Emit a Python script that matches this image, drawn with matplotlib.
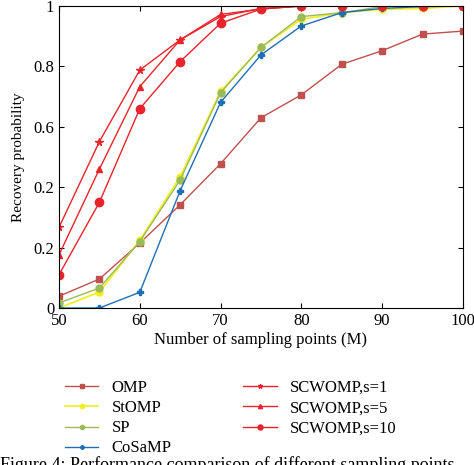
import matplotlib
matplotlib.use("Agg")
import matplotlib.pyplot as plt

plt.rcParams['font.family'] = ['Liberation Serif', 'DejaVu Serif']

M = [50, 55, 60, 65, 70, 75, 80, 85, 90, 95, 100]
omp = [0.039, 0.096, 0.215, 0.342, 0.478, 0.63, 0.706, 0.807, 0.852, 0.907, 0.917]
stomp = [0.0, 0.053, 0.224, 0.435, 0.717, 0.863, 0.956, 0.978, 0.989, 0.992, 1.0]
sp = [0.017, 0.066, 0.22, 0.424, 0.713, 0.863, 0.965, 0.978, 0.998, 0.998, 1.0]
cosamp = [0.0, 0.0, 0.052, 0.389, 0.681, 0.838, 0.934, 0.978, 0.992, 0.998, 1.0]
scw1 = [0.267, 0.551, 0.788, 0.888, 0.965, 0.992, 1.0, 1.0, 1.0, 1.0, 1.0]
scw5 = [0.176, 0.46, 0.733, 0.888, 0.972, 0.99, 1.0, 1.0, 1.0, 1.0, 1.0]
scw10 = [0.11, 0.35, 0.66, 0.816, 0.943, 0.99, 1.0, 1.0, 1.0, 1.0, 1.0]
yticks = [0, 0.2, 0.4, 0.6, 0.8, 1]
ytick_labels = ['0', '0.2', '0.2', '0.6', '0.8', '1']
xticks = [50, 60, 70, 80, 90, 100]

fig = plt.figure(figsize=(4.74, 4.65), dpi=100)
ax = fig.add_axes([59/474, 1-308/465, 404/474, 302/465])

red = '#e8232b'
ax.plot(M, omp, color='#c0504d', marker='s', ms=5, lw=1, label='OMP')
ax.plot(M, stomp, color='#f2ee1a', marker='o', ms=5, lw=1.2, label='StOMP')
ax.plot(M, sp, color='#9bbb59', marker='o', ms=5, lw=1, label='SP')
ax.plot(M, cosamp, color='#1f6fb4', marker='P', ms=4.5, lw=1, label='CoSaMP')
ax.plot(M, scw1, color=red, marker='*', ms=5.5, lw=1, label='SCWOMP,s=1')
ax.plot(M, scw5, color=red, marker='^', ms=5, lw=1, label='SCWOMP,s=5')
ax.plot(M, scw10, color=red, marker='o', ms=6, lw=1, label='SCWOMP,s=10')

ax.set_xlim(50, 100)
ax.set_ylim(0, 1)
ax.set_xticks(xticks)
ax.set_yticks(yticks)
ax.set_yticklabels(ytick_labels)
ax.tick_params(direction='in', top=True, right=True, labelsize=12)
ax.set_xlabel('Number of sampling points (M)', fontsize=12, labelpad=2)
ax.set_ylabel('Recovery probability', fontsize=11, labelpad=6)

handles, labels = ax.get_legend_handles_labels()
fig.legend(handles, labels, ncol=2, loc='upper left', bbox_to_anchor=(50/474, 1-365/465),
           frameon=False, fontsize=12, markerscale=0.6, handlelength=2,
           columnspacing=4.3, labelspacing=0.25)

fig.text(0.0, 0.0, 'Figure 4: Performance comparison of different sampling points',
         fontsize=13, va='center')

fig.savefig('out.png', dpi=100)
